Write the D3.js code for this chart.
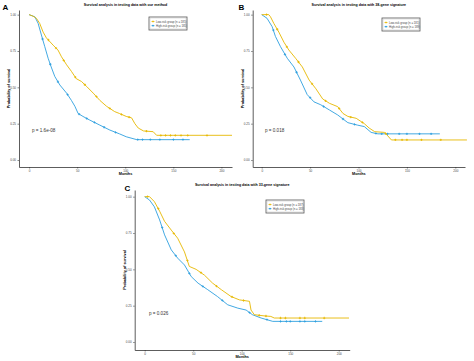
<!DOCTYPE html>
<html>
<head>
<meta charset="utf-8">
<script src="https://cdn.jsdelivr.net/npm/d3@7"></script>
<style>
  body { margin: 0; background: #fff; }
  svg { display: block; font-family: "Liberation Sans", Arial, sans-serif; }
</style>
</head>
<body>
<svg id="chart" width="474" height="361"></svg>
<script>
// ---- data ----
const xTicks = [0, 50, 100, 150, 200];
const yTicks = [0, 0.25, 0.5, 0.75, 1];
const yTickLabels = ["0.00", "0.25", "0.50", "0.75", "1.00"];

// A: our method
const aLowTime = [0, 4, 7.6, 11, 14.6, 18, 25, 30, 33.7, 39, 44, 49, 54.5, 60, 66.7, 73.6, 80.5, 89, 94, 101, 106.6, 110, 113.5, 119, 129, 132.6, 211];
const aLowSurv = [1, 0.99, 0.975, 0.94, 0.88, 0.84, 0.79, 0.757, 0.71, 0.655, 0.61, 0.56, 0.54, 0.505, 0.46, 0.41, 0.37, 0.333, 0.32, 0.30, 0.29, 0.25, 0.22, 0.20, 0.195, 0.17, 0.17];
const aHighTime = [0, 6, 9.4, 12.8, 16.3, 19.8, 23, 26.7, 32, 39, 44, 47.6, 51, 56, 63, 73.6, 84, 94, 101, 112, 167];
const aHighSurv = [1, 0.985, 0.94, 0.86, 0.78, 0.70, 0.64, 0.575, 0.516, 0.46, 0.41, 0.37, 0.32, 0.30, 0.275, 0.24, 0.206, 0.18, 0.16, 0.14, 0.14];
const aLowCensor = [20, 28, 36, 48, 58, 70, 84, 96, 104, 122, 137, 142, 147, 152, 158, 165, 185];
const aHighCensor = [14, 22, 30, 40, 52, 60, 68, 78, 90, 113, 118, 126, 136, 150, 160];

// B: 38-gene signature
const bLowTime = [0, 7.3, 9, 12.5, 17.7, 23, 28, 35, 42, 49, 56, 63, 70, 78.5, 84, 89, 97.6, 106, 111, 116.7, 127, 134, 212];
const bLowSurv = [1, 1, 0.986, 0.94, 0.88, 0.81, 0.757, 0.70, 0.64, 0.55, 0.49, 0.42, 0.39, 0.367, 0.32, 0.30, 0.287, 0.25, 0.22, 0.195, 0.19, 0.138, 0.138];
const bHighTime = [0, 5.5, 10.8, 14.2, 19.4, 26.4, 33.3, 40, 47, 54, 61, 70, 78.5, 89, 99, 106, 113, 120, 184];
const bHighSurv = [1, 0.975, 0.917, 0.85, 0.78, 0.70, 0.64, 0.55, 0.45, 0.40, 0.38, 0.344, 0.31, 0.257, 0.24, 0.23, 0.19, 0.18, 0.18];
const bLowCensor = [5, 16, 26, 38, 52, 66, 80, 92, 104, 128, 138, 145, 150, 165, 185];
const bHighCensor = [12, 24, 36, 50, 64, 84, 96, 118, 124, 130, 142, 150, 163, 175];

// C: 33-gene signature
const cLowTime = [0, 5, 10, 15.4, 20.5, 27.4, 34, 41, 46, 53, 61.6, 70, 79, 89, 97.6, 108, 109.6, 113, 123, 130, 133.6, 210.6];
const cLowSurv = [1, 1, 0.966, 0.90, 0.83, 0.77, 0.714, 0.62, 0.52, 0.50, 0.46, 0.405, 0.36, 0.313, 0.29, 0.28, 0.22, 0.188, 0.18, 0.176, 0.165, 0.165];
const cHighTime = [0, 5, 10, 15.4, 20.5, 27.4, 34, 41, 48, 55, 65, 75, 85.6, 96, 104.5, 111, 120, 132, 183];
const cHighSurv = [1, 0.977, 0.93, 0.84, 0.737, 0.634, 0.577, 0.53, 0.45, 0.405, 0.36, 0.313, 0.256, 0.233, 0.22, 0.188, 0.165, 0.142, 0.142];
const cLowCensor = [3, 14, 30, 44, 58, 74, 90, 102, 118, 125, 140, 145, 160, 165, 185];
const cHighCensor = [18, 32, 46, 60, 80, 108, 126, 140, 146, 150, 160, 165, 176];

const lowColor = "#E7B800", highColor = "#2E9FDF";

const panels = [
  { tag: "A", title: "Survival analysis in testing data with our method",
    low: [aLowTime, aLowSurv, aLowCensor], high: [aHighTime, aHighSurv, aHighCensor],
    lowLabel: "Low-risk group (n = 185)", highLabel: "High-risk group (n = 185)", p: "p = 1.6e-08",
    box: { x0: 19, x1: 232, y0: 10, y1: 167 }, xd: [-10.5, 211], yd: [-0.048, 1.032],
    tagPos: [2.5, 9.8], legend: [149, 17], pPos: [32, 132] },
  { tag: "B", title: "Survival analysis in testing data with 38-gene signature",
    low: [bLowTime, bLowSurv, bLowCensor], high: [bHighTime, bHighSurv, bHighCensor],
    lowLabel: "Low-risk group (n = 181)", highLabel: "High-risk group (n = 189)", p: "p = 0.018",
    box: { x0: 252.7, x1: 465, y0: 10, y1: 167 }, xd: [-9.3, 210], yd: [-0.048, 1.032],
    tagPos: [238.5, 9.8], legend: [382, 18], pPos: [265, 132] },
  { tag: "C", title: "Survival analysis in testing data with 33-gene signature",
    low: [cLowTime, cLowSurv, cLowCensor], high: [cHighTime, cHighSurv, cHighCensor],
    lowLabel: "Low-risk group (n = 187)", highLabel: "High-risk group (n = 183)", p: "p = 0.026",
    box: { x0: 134.7, x1: 349.7, y0: 190, y1: 350 }, xd: [-10.3, 211.3], yd: [-0.055, 1.046],
    tagPos: [124.5, 191.3], legend: [266, 200], pPos: [149, 315] }
];

const svg = d3.select("#chart");

// survival at time t
function survAt(times, surv, t) {
  const i = d3.bisectRight(times, t) - 1;
  if (i >= times.length - 1) return surv[surv.length - 1];
  const f = (t - times[i]) / (times[i + 1] - times[i]);
  return surv[i] + f * (surv[i + 1] - surv[i]);
}

panels.forEach(function(p) {
  const g = svg.append("g");
  const x = d3.scaleLinear().domain(p.xd).range([p.box.x0, p.box.x1]);
  const y = d3.scaleLinear().domain(p.yd).range([p.box.y1, p.box.y0]);

  g.append("text").attr("x", p.tagPos[0]).attr("y", p.tagPos[1])
    .attr("font-size", 8).attr("font-weight", "bold").text(p.tag);
  g.append("text").attr("x", (p.box.x0 + p.box.x1) / 2).attr("y", p.box.y0 - 4)
    .attr("text-anchor", "middle").attr("font-size", 3.6).attr("font-weight", "bold").text(p.title);

  const xa = g.append("g").attr("transform", `translate(0,${p.box.y1})`)
    .call(d3.axisBottom(x).tickValues(xTicks).tickSize(1.5).tickPadding(1.5).tickSizeOuter(0));
  const ya = g.append("g").attr("transform", `translate(${p.box.x0},0)`)
    .call(d3.axisLeft(y).tickValues(yTicks).tickFormat((d, i) => yTickLabels[i]).tickSize(1.5).tickPadding(1.5).tickSizeOuter(0));
  [xa, ya].forEach(a => {
    a.select(".domain").attr("stroke", "#333").attr("stroke-width", 0.8);
    a.selectAll(".tick line").attr("stroke", "#333").attr("stroke-width", 0.6);
    a.selectAll(".tick text").attr("font-size", 3).attr("fill", "#444").attr("font-family", "Liberation Sans, Arial, sans-serif");
  });

  g.append("text").attr("x", (p.box.x0 + p.box.x1) / 2).attr("y", p.box.y1 + 8)
    .attr("text-anchor", "middle").attr("font-size", 3.8).attr("font-weight", "bold").text("Months");
  g.append("text")
    .attr("transform", `translate(${p.box.x0 - 9},${(p.box.y0 + p.box.y1) / 2}) rotate(-90)`)
    .attr("text-anchor", "middle").attr("font-size", 3.8).attr("font-weight", "bold").text("Probability of survival");

  const line = d3.line().x(d => x(d[0])).y(d => y(d[1]));
  [[p.high, highColor], [p.low, lowColor]].forEach(function(s) {
    const times = s[0][0], surv = s[0][1], cens = s[0][2];
    g.append("path").datum(d3.zip(times, surv)).attr("d", line)
      .attr("fill", "none").attr("stroke", s[1]).attr("stroke-width", 0.9);
    g.selectAll(null).data(cens).enter().append("path")
      .attr("transform", t => `translate(${x(t)},${y(survAt(times, surv, t))})`)
      .attr("d", d3.symbol(d3.symbolCross, 3))
      .attr("fill", s[1]);
  });

  g.append("text").attr("x", p.pPos[0]).attr("y", p.pPos[1])
    .attr("font-size", 4.6).attr("fill", "#333").text(p.p);

  // legend
  const lg = g.append("g").attr("transform", `translate(${p.legend[0]},${p.legend[1]})`);
  lg.append("rect").attr("width", 38).attr("height", 13).attr("fill", "#fff")
    .attr("stroke", "#555").attr("stroke-width", 0.8);
  lg.append("rect").attr("x", 1).attr("y", 1).attr("width", 36).attr("height", 11).attr("fill", "none")
    .attr("stroke", "#bbb").attr("stroke-width", 0.4);
  [[p.lowLabel, lowColor], [p.highLabel, highColor]].forEach(function(e, i) {
    const yy = 4.5 + i * 4.2;
    lg.append("line").attr("x1", 2.5).attr("x2", 5.5).attr("y1", yy).attr("y2", yy)
      .attr("stroke", e[1]).attr("stroke-width", 0.7);
    lg.append("path").attr("transform", `translate(4,${yy})`)
      .attr("d", d3.symbol(d3.symbolCross, 2.5)).attr("fill", e[1]);
    lg.append("text").attr("x", 7).attr("y", yy + 1).attr("font-size", 2.8).attr("fill", "#444").text(e[0]);
  });
});
</script>
</body>
</html>
